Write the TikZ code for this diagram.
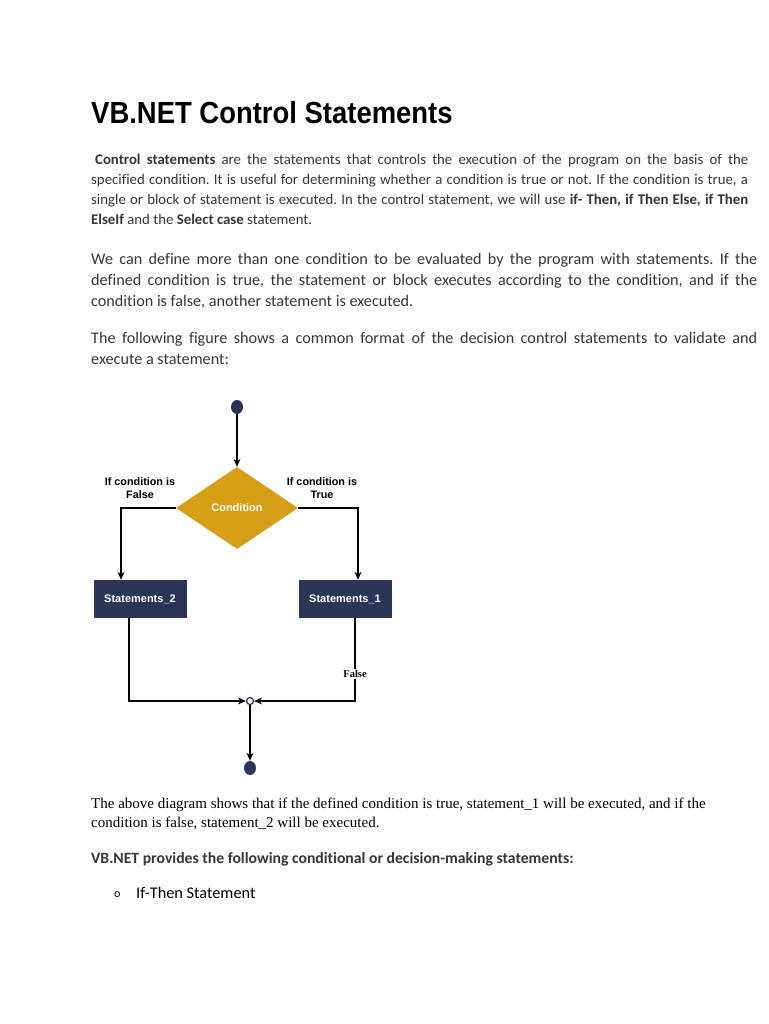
\documentclass[tikz,border=0pt]{standalone}
\usepackage{fontspec}
\usetikzlibrary{shapes.geometric,arrows.meta}
\newfontfamily\bodyf[Ligatures=CommonOff]{Carlito}
\newfontfamily\titlef{Liberation Sans}
\newfontfamily\titlenarrow[FakeStretch=0.9]{Liberation Sans}
\newfontfamily\serf{Liberation Serif}
\definecolor{navy}{HTML}{2B3556}
\definecolor{gold}{HTML}{D69E14}
\definecolor{bodygray}{HTML}{363636}
\definecolor{junc}{HTML}{2A2A7A}
\newcommand\jl[1]{\hbox to \hsize{#1}}
\newcommand\nl[1]{\hbox{#1}}
\frenchspacing
\tikzset{
  para/.style={anchor=base west, inner sep=0pt, text=bodygray},
  stmt/.style={rectangle, fill=navy, text=white, minimum width=93pt, minimum height=38pt, inner sep=0pt, font=\titlef\bfseries\fontsize{11}{13}\selectfont},
  dot/.style={ellipse, fill=navy, minimum width=12pt, minimum height=14pt, inner sep=0pt},
  lbl/.style={align=center, inner sep=0pt, font=\titlef\bfseries\fontsize{10.8}{13}\selectfont},
  arr/.style={line width=1.1pt, -{Stealth[length=8pt,width=7pt]}},
}
\begin{document}
\begin{tikzpicture}[x=1pt,y=-1pt]
\useasboundingbox[fill=white] (0,0) rectangle (768,1024);
% title
\node[anchor=base west, inner sep=0pt, font=\titlenarrow\bfseries\fontsize{30.5}{34}\selectfont] (title) at (91,124) {VB.NET Control Statements};
% paragraph 1
\node[para, font=\bodyf\fontsize{14.8}{20}\selectfont] (p1) at (91,165) {\vtop{\hsize=657pt
\jl{\hspace*{4pt}\textbf{Control statements} are the statements that controls the execution of the program on the basis of the}
\jl{specified condition. It is useful for determining whether a condition is true or not. If the condition is true, a}
\jl{single or block of statement is executed. In the control statement, we will use \textbf{if- Then, if Then Else, if Then}}
\nl{\textbf{ElseIf} and the \textbf{Select case} statement.}}};
% paragraph 2
\node[para, font=\bodyf\fontsize{16.2}{21}\selectfont] (p2) at (91,264) {\vtop{\hsize=666pt
\jl{We can define more than one condition to be evaluated by the program with statements. If the}
\jl{defined condition is true, the statement or block executes according to the condition, and if the}
\nl{condition is false, another statement is executed.}}};
% paragraph 3
\node[para, font=\bodyf\fontsize{16.2}{21}\selectfont] (p3) at (91,343) {\vtop{\hsize=666pt
\jl{The following figure shows a common format of the decision control statements to validate and}
\nl{execute a statement:}}};
% diagram
\node[dot] (start) at (237,407) {};
\node[diamond, fill=gold, minimum width=122pt, minimum height=82pt, inner sep=0pt, text=white, font=\titlef\bfseries\fontsize{11}{13}\selectfont] (cond) at (237,508) {Condition};
\node[lbl] (lf) at (140,488) {If condition is\\False};
\node[lbl] (lt) at (322,488) {If condition is\\True};
\node[stmt] (s2) at (140,599) {Statements\_2};
\node[stmt] (s1) at (345,599) {Statements\_1};
\node[circle, draw=junc, fill=white, line width=1.2pt, minimum size=7pt, inner sep=0pt] (j) at (250,701) {};
\node[dot] (end) at (250,768) {};
\draw[arr] (start) -- (cond);
\draw[arr] (cond.west) -| ([xshift=-19pt]s2.north);
\draw[arr] (cond.east) -| ([xshift=13pt]s1.north);
\draw[arr] ([xshift=-11pt]s2.south) |- (j.west);
\draw[arr] ([xshift=10pt]s1.south) |- node[pos=0.337, fill=white, inner sep=1pt, font=\serf\bfseries\fontsize{10.5}{11}\selectfont] (fl) {False} (j.east);
\draw[arr] (j) -- (end);
% caption
\node[anchor=base west, inner sep=0pt, font=\serf\fontsize{15}{19}\selectfont] (cap) at (91,808) {\vtop{\hsize=670pt
\nl{The above diagram shows that if the defined condition is true, statement\_1 will be executed, and if the}
\nl{condition is false, statement\_2 will be executed.}}};
\node[anchor=base west, inner sep=0pt, text=bodygray, font=\bodyf\bfseries\fontsize{15.7}{18}\selectfont] (prov) at (91,863) {VB.NET provides the following conditional or decision-making statements:};
\node[anchor=base west, inner sep=0pt, font=\bodyf\fontsize{12}{12}\selectfont] (bul) at (114,897) {o};
\node[anchor=base west, inner sep=0pt, font=\bodyf\fontsize{16.3}{18}\selectfont] (item) at (136,898) {If-Then Statement};
\end{tikzpicture}
\end{document}
